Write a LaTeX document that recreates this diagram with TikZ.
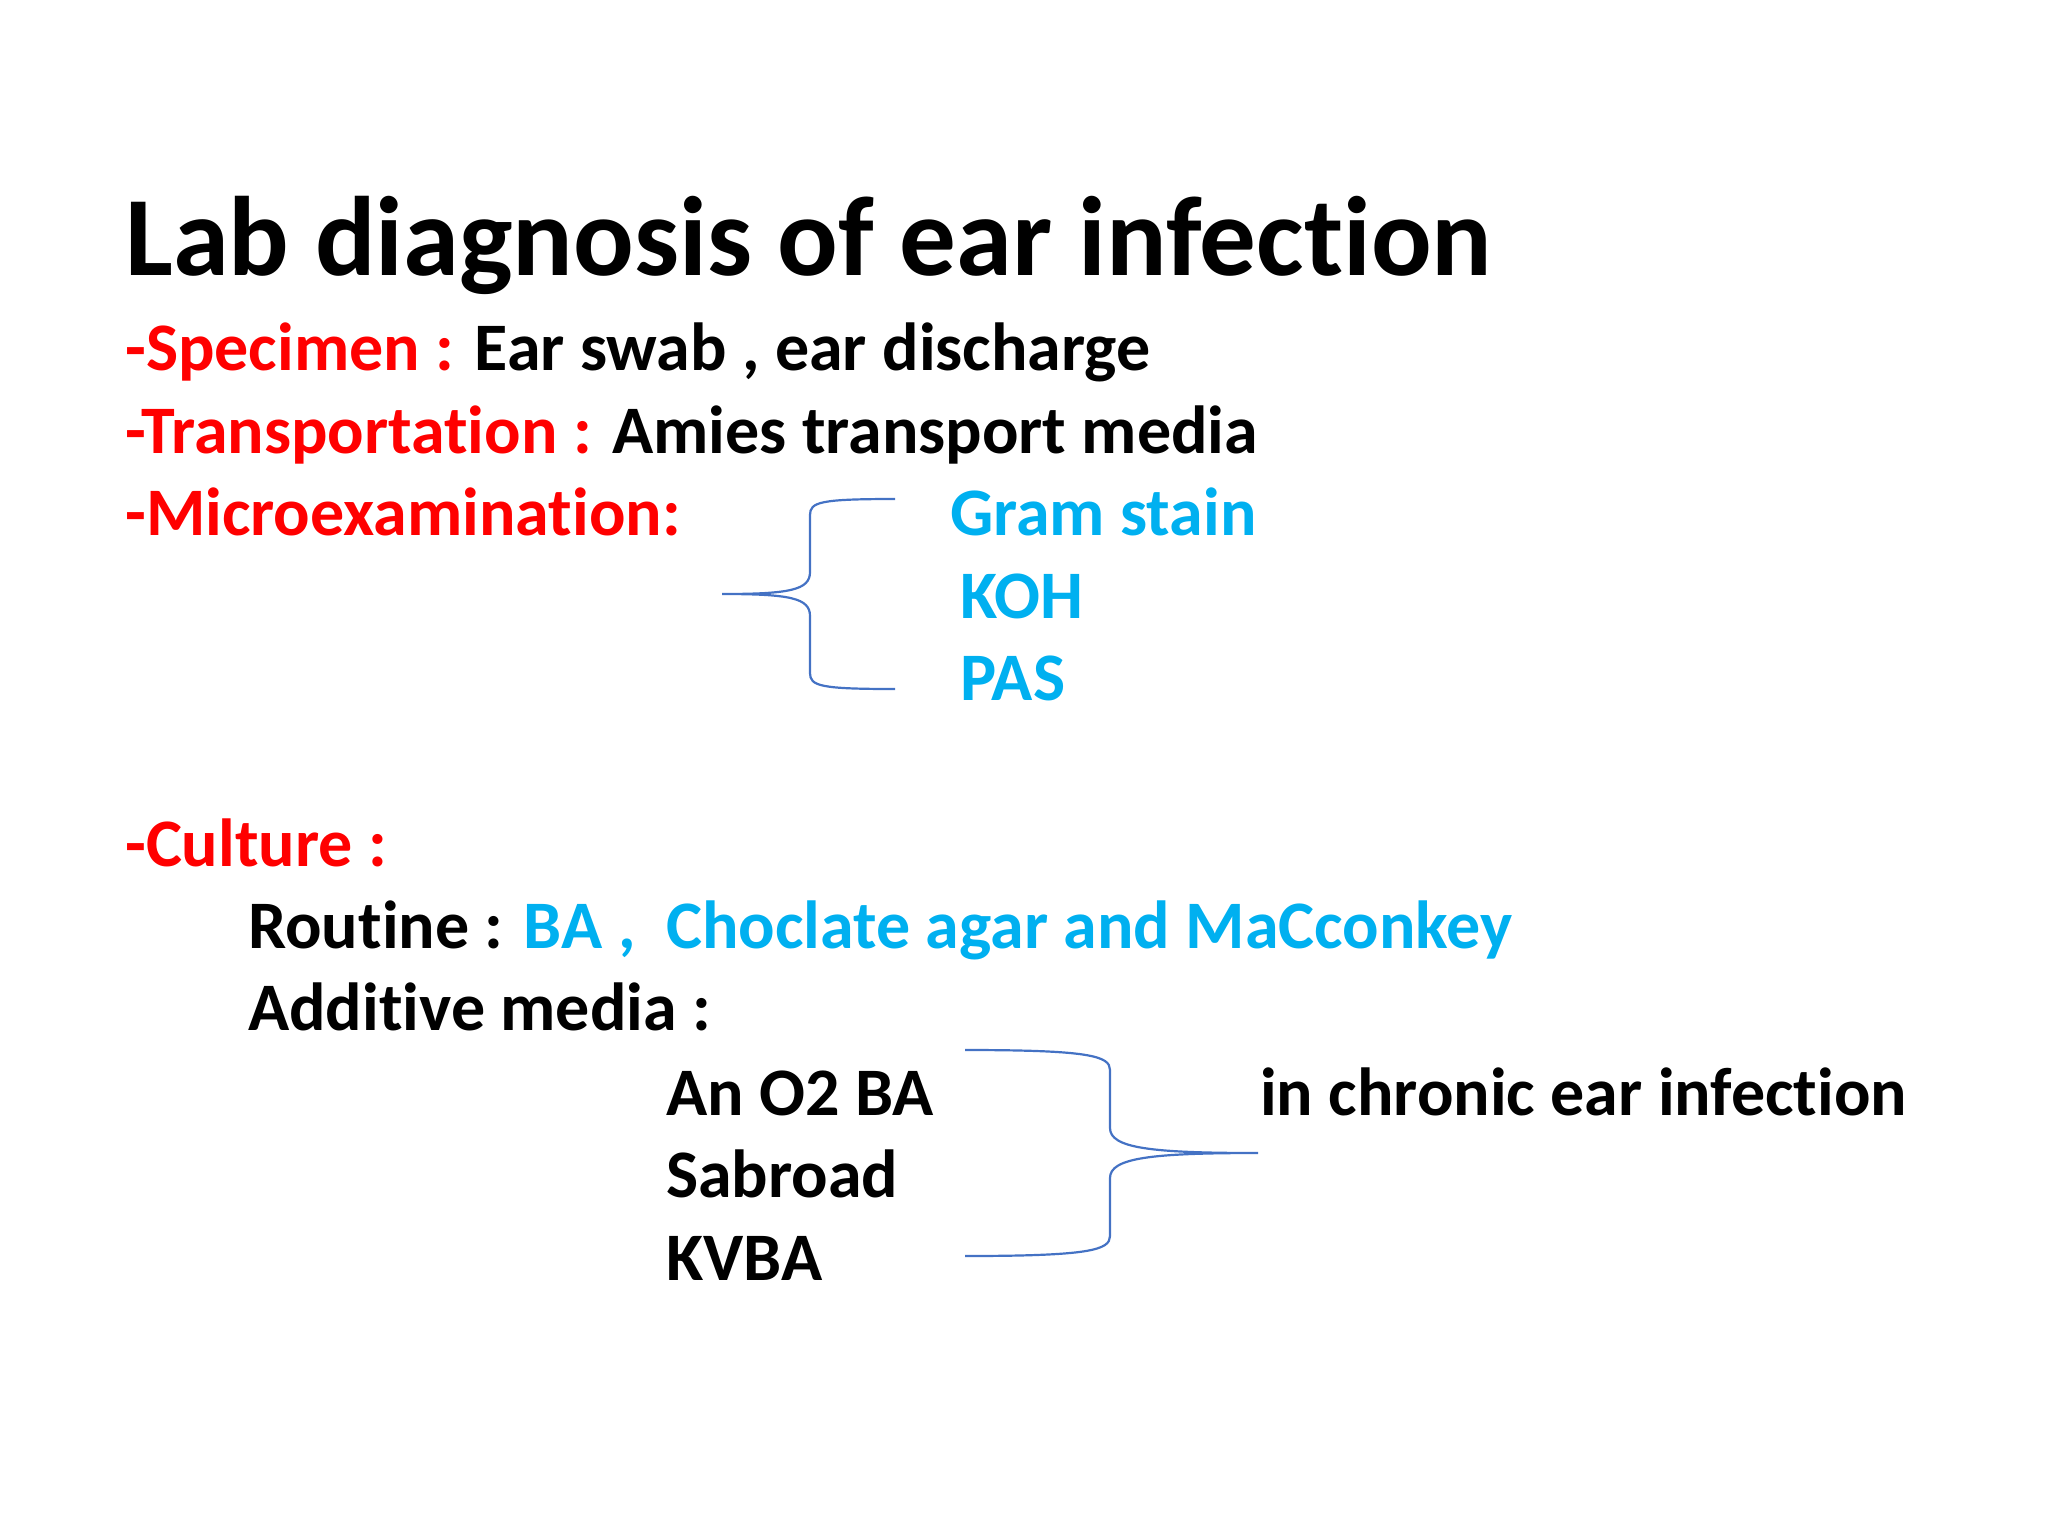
\documentclass[tikz,border=0pt]{standalone}
\usepackage{fontspec}
\setmainfont{Carlito}[Ligatures={NoCommon}]
\definecolor{hred}{RGB}{255,0,0}
\definecolor{hblue}{RGB}{0,176,240}
\definecolor{brc}{RGB}{68,114,196}
\begin{document}
\begin{tikzpicture}[x=1pt,y=-1pt,
  txt/.style={anchor=base west,inner sep=0pt,font=\fontsize{68}{80}\selectfont\bfseries},
  brace/.style={draw=brc,line width=2.2pt}]
\useasboundingbox (0,0) rectangle (2048,1535);
\node[txt,font=\fontsize{113}{130}\selectfont\bfseries] (title) at (125,275) {Lab diagnosis of ear infection};
\node[txt] (spec) at (125,370) {\textcolor{hred}{-Specimen :} Ear swab , ear discharge};
\node[txt] (trans) at (125,453) {\textcolor{hred}{-Transportation :} Amies transport media};
\node[txt,hred] (micro) at (125,535) {-Microexamination:};
\node[txt,hblue] (gram) at (950,535) {Gram stain};
\node[txt,hblue] (koh) at (960,618) {KOH};
\node[txt,hblue] (pas) at (960,700) {PAS};
\node[txt,hred] (cult) at (125,866) {-Culture :};
\node[txt] (rout) at (248,948) {Routine : \textcolor{hblue}{BA ,~ Choclate agar and MaCconkey}};
\node[txt] (add) at (248,1030) {Additive media :};
\node[txt] (an) at (666,1115) {An O2 BA};
\node[txt] (sab) at (666,1197) {Sabroad};
\node[txt] (kvba) at (666,1280) {KVBA};
\node[txt] (chron) at (1260,1115) {in chronic ear infection};
\coordinate (b1t) at (895,499);
\coordinate (b1m) at (722,594);
\coordinate (b1b) at (895,689);
\path[brace] (b1t) .. controls (820,499) and (810,502) .. (810,515) -- (810,572)
  .. controls (810,590) and (790,594) .. (b1m)
  .. controls (790,594) and (810,598) .. (810,616) -- (810,673)
  .. controls (810,686) and (820,689) .. (b1b);
\coordinate (b2t) at (965,1050);
\coordinate (b2m) at (1258,1153);
\coordinate (b2b) at (965,1256);
\path[brace] (b2t) .. controls (1090,1050) and (1110,1056) .. (1110,1070) -- (1110,1128)
  .. controls (1110,1148) and (1150,1153) .. (b2m)
  .. controls (1150,1153) and (1110,1158) .. (1110,1178) -- (1110,1236)
  .. controls (1110,1250) and (1090,1256) .. (b2b);
\end{tikzpicture}
\end{document}
